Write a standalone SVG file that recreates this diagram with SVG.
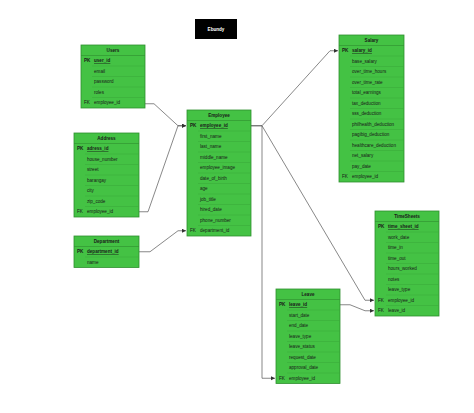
<svg xmlns="http://www.w3.org/2000/svg" width="474" height="413" viewBox="0 0 474 413">
<style>
.tb{fill:#44c244;stroke:#2f8f2f;stroke-width:0.8}
.hd{stroke:#2f8f2f;stroke-width:0.6}
.sep{stroke:#38a838;stroke-width:0.5}
text{font-family:"Liberation Sans",Arial,sans-serif;font-size:4.6px;fill:#1a1a1a}
.ht{text-anchor:middle;font-weight:bold}
.k{font-weight:bold}
.pk{text-decoration:underline;font-weight:bold}
.c{fill:none;stroke:#555;stroke-width:0.7}
</style>
<defs>
<marker id="ah" markerWidth="5" markerHeight="5" refX="4" refY="2" orient="auto" markerUnits="userSpaceOnUse">
<path d="M0,0 L4,2 L0,4 Z" fill="#333"/>
</marker>
</defs>
<rect width="474" height="413" fill="#fff"/>

<g id="title">
<rect x="195" y="19" width="42" height="20" fill="#000"/>
<text x="216" y="30.6" style="fill:#fff;text-anchor:middle;font-weight:bold">Ebundy</text>
</g>

<g id="connectors">
<path class="c" d="M145,103.75 H154 L178,125.75 H186" marker-end="url(#ah)"/>
<path class="c" d="M139,211.75 H148 L178,125.75 H186" marker-end="url(#ah)"/>
<path class="c" d="M139,251.75 H150 L178,230.75 H186" marker-end="url(#ah)"/>
<path class="c" d="M251,125.75 H262 L330,50.75 H338" marker-end="url(#ah)"/>
<path class="c" d="M251,125.75 H262 L365,300.25 H374" marker-end="url(#ah)"/>
<path class="c" d="M262,125.75 V378.25 H275" marker-end="url(#ah)"/>
<path class="c" d="M340,304.75 H350 L365,310.75 H374" marker-end="url(#ah)"/>
</g>

<g id="users" transform="translate(81,45)">
<rect class="tb" width="64" height="63"/>
<line class="hd" x1="0" y1="10.5" x2="64" y2="10.5"/>
<text class="ht" x="32" y="7">Users</text>
<line class="sep" x1="11" y1="21" x2="64" y2="21"/><line class="sep" x1="11" y1="31.5" x2="64" y2="31.5"/><line class="sep" x1="11" y1="42" x2="64" y2="42"/><line class="sep" x1="11" y1="52.5" x2="64" y2="52.5"/>
<text class="k" x="3" y="17.35">PK</text><text class="pk" x="13" y="17.35">user_id</text>
<text x="13" y="27.85">email</text>
<text x="13" y="38.35">password</text>
<text x="13" y="48.85">roles</text>
<text x="3" y="59.35">FK</text><text x="13" y="59.35">employee_id</text>
</g>

<g id="address" transform="translate(74,133)">
<rect class="tb" width="65" height="84"/>
<line class="hd" x1="0" y1="10.5" x2="65" y2="10.5"/>
<text class="ht" x="32.5" y="7">Address</text>
<line class="sep" x1="11" y1="21" x2="65" y2="21"/><line class="sep" x1="11" y1="31.5" x2="65" y2="31.5"/><line class="sep" x1="11" y1="42" x2="65" y2="42"/><line class="sep" x1="11" y1="52.5" x2="65" y2="52.5"/><line class="sep" x1="11" y1="63" x2="65" y2="63"/><line class="sep" x1="11" y1="73.5" x2="65" y2="73.5"/>
<text class="k" x="3" y="17.35">PK</text><text class="pk" x="13" y="17.35">adress_id</text>
<text x="13" y="27.85">house_number</text>
<text x="13" y="38.35">street</text>
<text x="13" y="48.85">barangay</text>
<text x="13" y="59.35">city</text>
<text x="13" y="69.85">zip_code</text>
<text x="3" y="80.35">FK</text><text x="13" y="80.35">employee_id</text>
</g>

<g id="department" transform="translate(74,236)">
<rect class="tb" width="65" height="31.5"/>
<line class="hd" x1="0" y1="10.5" x2="65" y2="10.5"/>
<text class="ht" x="32.5" y="7">Department</text>
<line class="sep" x1="11" y1="21" x2="65" y2="21"/>
<text class="k" x="3" y="17.35">PK</text><text class="pk" x="13" y="17.35">department_id</text>
<text x="13" y="27.85">name</text>
</g>

<g id="employee" transform="translate(187,110)">
<rect class="tb" width="64" height="126"/>
<line class="hd" x1="0" y1="10.5" x2="64" y2="10.5"/>
<text class="ht" x="32" y="7">Employee</text>
<line class="sep" x1="11" y1="21" x2="64" y2="21"/><line class="sep" x1="11" y1="31.5" x2="64" y2="31.5"/><line class="sep" x1="11" y1="42" x2="64" y2="42"/><line class="sep" x1="11" y1="52.5" x2="64" y2="52.5"/><line class="sep" x1="11" y1="63" x2="64" y2="63"/><line class="sep" x1="11" y1="73.5" x2="64" y2="73.5"/><line class="sep" x1="11" y1="84" x2="64" y2="84"/><line class="sep" x1="11" y1="94.5" x2="64" y2="94.5"/><line class="sep" x1="11" y1="105" x2="64" y2="105"/><line class="sep" x1="11" y1="115.5" x2="64" y2="115.5"/>
<text class="k" x="3" y="17.35">PK</text><text class="pk" x="13" y="17.35">employee_id</text>
<text x="13" y="27.85">first_name</text>
<text x="13" y="38.35">last_name</text>
<text x="13" y="48.85">middle_name</text>
<text x="13" y="59.35">employee_image</text>
<text x="13" y="69.85">date_of_birth</text>
<text x="13" y="80.35">age</text>
<text x="13" y="90.85">job_title</text>
<text x="13" y="101.35">hired_date</text>
<text x="13" y="111.85">phone_number</text>
<text x="3" y="122.35">FK</text><text x="13" y="122.35">department_id</text>
</g>

<g id="salary" transform="translate(339,35)">
<rect class="tb" width="65" height="147"/>
<line class="hd" x1="0" y1="10.5" x2="65" y2="10.5"/>
<text class="ht" x="32.5" y="7">Salary</text>
<line class="sep" x1="11" y1="21" x2="65" y2="21"/><line class="sep" x1="11" y1="31.5" x2="65" y2="31.5"/><line class="sep" x1="11" y1="42" x2="65" y2="42"/><line class="sep" x1="11" y1="52.5" x2="65" y2="52.5"/><line class="sep" x1="11" y1="63" x2="65" y2="63"/><line class="sep" x1="11" y1="73.5" x2="65" y2="73.5"/><line class="sep" x1="11" y1="84" x2="65" y2="84"/><line class="sep" x1="11" y1="94.5" x2="65" y2="94.5"/><line class="sep" x1="11" y1="105" x2="65" y2="105"/><line class="sep" x1="11" y1="115.5" x2="65" y2="115.5"/><line class="sep" x1="11" y1="126" x2="65" y2="126"/><line class="sep" x1="11" y1="136.5" x2="65" y2="136.5"/>
<text class="k" x="3" y="17.35">PK</text><text class="pk" x="13" y="17.35">salary_id</text>
<text x="13" y="27.85">base_salary</text>
<text x="13" y="38.35">over_time_hours</text>
<text x="13" y="48.85">over_time_rate</text>
<text x="13" y="59.35">total_earnings</text>
<text x="13" y="69.85">tax_deduction</text>
<text x="13" y="80.35">sss_deduction</text>
<text x="13" y="90.85">philhealth_deduction</text>
<text x="13" y="101.35">pagibig_deduction</text>
<text x="13" y="111.85">healthcare_deduction</text>
<text x="13" y="122.35">net_salary</text>
<text x="13" y="132.85">pay_date</text>
<text x="3" y="143.35">FK</text><text x="13" y="143.35">employee_id</text>
</g>

<g id="timesheets" transform="translate(375,211)">
<rect class="tb" width="64" height="105"/>
<line class="hd" x1="0" y1="10.5" x2="64" y2="10.5"/>
<text class="ht" x="32" y="7">TimeSheets</text>
<line class="sep" x1="11" y1="21" x2="64" y2="21"/><line class="sep" x1="11" y1="31.5" x2="64" y2="31.5"/><line class="sep" x1="11" y1="42" x2="64" y2="42"/><line class="sep" x1="11" y1="52.5" x2="64" y2="52.5"/><line class="sep" x1="11" y1="63" x2="64" y2="63"/><line class="sep" x1="11" y1="73.5" x2="64" y2="73.5"/><line class="sep" x1="11" y1="84" x2="64" y2="84"/><line class="sep" x1="11" y1="94.5" x2="64" y2="94.5"/>
<text class="k" x="3" y="17.35">PK</text><text class="pk" x="13" y="17.35">time_sheet_id</text>
<text x="13" y="27.85">work_date</text>
<text x="13" y="38.35">time_in</text>
<text x="13" y="48.85">time_out</text>
<text x="13" y="59.35">hours_worked</text>
<text x="13" y="69.85">notes</text>
<text x="13" y="80.35">leave_type</text>
<text x="3" y="90.85">FK</text><text x="13" y="90.85">employee_id</text>
<text x="3" y="101.35">FK</text><text x="13" y="101.35">leave_id</text>
</g>

<g id="leave" transform="translate(276,289)">
<rect class="tb" width="64" height="94.5"/>
<line class="hd" x1="0" y1="10.5" x2="64" y2="10.5"/>
<text class="ht" x="32" y="7">Leave</text>
<line class="sep" x1="11" y1="21" x2="64" y2="21"/><line class="sep" x1="11" y1="31.5" x2="64" y2="31.5"/><line class="sep" x1="11" y1="42" x2="64" y2="42"/><line class="sep" x1="11" y1="52.5" x2="64" y2="52.5"/><line class="sep" x1="11" y1="63" x2="64" y2="63"/><line class="sep" x1="11" y1="73.5" x2="64" y2="73.5"/><line class="sep" x1="11" y1="84" x2="64" y2="84"/>
<text class="k" x="3" y="17.35">PK</text><text class="pk" x="13" y="17.35">leave_id</text>
<text x="13" y="27.85">start_date</text>
<text x="13" y="38.35">end_date</text>
<text x="13" y="48.85">leave_type</text>
<text x="13" y="59.35">leave_status</text>
<text x="13" y="69.85">request_date</text>
<text x="13" y="80.35">approval_date</text>
<text x="3" y="90.85">FK</text><text x="13" y="90.85">employee_id</text>
</g>
</svg>
